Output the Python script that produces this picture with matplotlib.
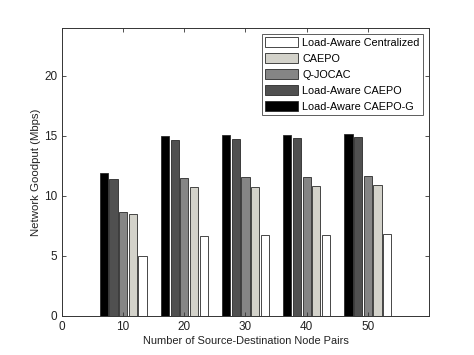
import matplotlib
matplotlib.use("Agg")
import matplotlib.pyplot as plt
import numpy as np

plt.rcParams['font.family'] = ['Liberation Sans', 'DejaVu Sans']

pairs = [10, 20, 30, 40, 50]
series_names = ["Load-Aware CAEPO-G", "Load-Aware CAEPO", "Q-JOCAC", "CAEPO",
                "Load-Aware Centralized"]
la_caepo_g = [11.9, 15.0, 15.1, 15.1, 15.15]
la_caepo = [11.4, 14.65, 14.75, 14.8, 14.88]
q_jocac = [8.68, 11.48, 11.55, 11.62, 11.7]
caepo = [8.53, 10.71, 10.78, 10.85, 10.94]
la_central = [4.96, 6.7, 6.78, 6.78, 6.86]
colors = ["#000000", "#505050", "#858585", "#d3d2ca", "#ffffff"]

data = [la_caepo_g, la_caepo, q_jocac, caepo, la_central]

fig = plt.figure(figsize=(4.74, 3.55), dpi=100)
ax = fig.add_axes([62/474, 1-316/355, (429-62)/474, (316-28)/355])

step = 1.58
width = 1.36
x = np.array(pairs, dtype=float)
handles = []
for i, (vals, c, name) in enumerate(zip(data, colors, series_names)):
    h = ax.bar(x + (i - 2) * step, vals, width=width, color=c,
               edgecolor="#2a2a2a", linewidth=0.6, label=name)
    handles.append(h)

ax.set_xlim(0, 60)
ax.set_ylim(0, 24)
ax.set_xticks([0, 10, 20, 30, 40, 50])
ax.set_yticks([0, 5, 10, 15, 20])
ax.tick_params(direction="in", top=True, right=True, labelsize=8.5,
               length=3, width=0.6, colors="#333333", labelcolor="#222222")
for s in ax.spines.values():
    s.set_linewidth(0.7)
    s.set_color("#333333")
ax.set_xlabel("Number of Source-Destination Node Pairs", fontsize=7.9,
              color="#222222", labelpad=2)
ax.set_ylabel("Network Goodput (Mbps)", fontsize=8.2, color="#222222",
              labelpad=2)

leg = ax.legend(handles[::-1], series_names[::-1], loc="upper right",
                fontsize=7.8, frameon=True, fancybox=False, handlelength=3.05,
                handleheight=1.0, handletextpad=0.37, labelspacing=0.5,
                borderpad=0.3, borderaxespad=0.55)
leg.get_frame().set_edgecolor("#333333")
leg.get_frame().set_linewidth(0.7)

fig.savefig("out.png", dpi=100)
